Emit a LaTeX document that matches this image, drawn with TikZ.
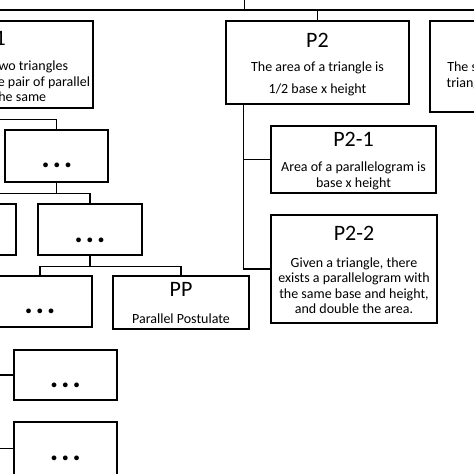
\documentclass[tikz,border=0pt]{standalone}
\usepackage{fontspec}
\setmainfont{Carlito}
\usetikzlibrary{positioning}
\tikzset{
  box/.style={draw, line width=1.3pt, inner sep=0pt},
  ttl/.style={font=\fontsize{22}{24}\selectfont, inner sep=0pt},
  txt/.style={font=\fontsize{14}{15.5}\selectfont, align=center, inner sep=0pt},
  dots/.style={font=\fontsize{32}{34}\selectfont\bfseries, inner sep=0pt},
}
\newcommand{\moredots}{.\kern2.7pt.\kern2.7pt.}

\begin{document}
\begin{tikzpicture}[x=1pt, y=-1pt, line width=1.3pt]
	\useasboundingbox (0,0) rectangle (474,474);
	% first row
	\node[box, minimum width=235pt, minimum height=40pt] (top) at (244.5,-20.3) {};
	\node[box, minimum width=197pt, minimum height=87pt] (P1) at (-5.5,64.5) {};
	\node[box, minimum width=183pt, minimum height=83pt] (P2) at (317.5,62.5) {};
	\node[box, minimum width=183pt, minimum height=91pt] (P3) at (521.5,66.5) {};
	\node[ttl] (P1t) at (-5.5,38.5) {P1};
	\node[txt] (P1b) at (-5.5,81.5) {The areas of two triangles\\between the same pair of parallel\\lines are the same};
	\node[ttl] (P2t) at (317.5,40) {P2};
	\node[txt] (P2b) at (317.5,79) {The area of a triangle is\\[6.5pt]1/2 base x height};
	\node[txt] (P3b) at (521.5,76) {The sum of the angles in a\\triangle is two right angles};
	% under P2
	\node[box, minimum width=165pt, minimum height=67pt] (P21) at (353.5,159.5) {};
	\node[box, minimum width=166pt, minimum height=108pt] (P22) at (354,269) {};
	\node[ttl] (P21t) at (353.5,139.5) {P2-1};
	\node[txt] (P21b) at (353.5,176) {Area of a parallelogram is\\base x height};
	\node[ttl] (P22t) at (354,233) {P2-2};
	\node[txt] (P22b) at (354,285.5) {Given a triangle, there\\exists a parallelogram with\\the same base and height,\\and double the area.};
	% under P1
	\node[box, minimum width=103pt, minimum height=52pt] (D1) at (56.5,156) {};
	\node[box, minimum width=104pt, minimum height=51pt] (D0) at (-36,229.5) {};
	\node[box, minimum width=104pt, minimum height=51pt] (D2) at (90,229.5) {};
	\node[box, minimum width=104pt, minimum height=51pt] (D3) at (40,301.5) {};
	\node[box, minimum width=136pt, minimum height=53pt] (PP) at (181,302.5) {};
	\node[box, minimum width=103pt, minimum height=50pt] (D4) at (65.5,375) {};
	\node[box, minimum width=103pt, minimum height=52.3pt] (D5) at (65.5,448.15) {};
	\node[dots] (D1t) at (57,165.5) {\moredots};
	\node[dots] (D2t) at (90,240.5) {\moredots};
	\node[dots] (D3t) at (40,311.5) {\moredots};
	\node[dots] (D4t) at (65.5,385.5) {\moredots};
	\node[dots] (D5t) at (65.5,458.5) {\moredots};
	\node[ttl] (PPt) at (181,289) {PP};
	\node[txt] (PPb) at (181,319) {Parallel Postulate};
	% connectors
	\coordinate (bus) at (0,10);
	\draw (top.south) -- (top.south |- bus);
	\draw (P1.north) -- (P1.north |- bus) -| (P3.north);
	\draw (P2.north) -- (P2.north |- bus);
	\coordinate (P2s) at ([xshift=18pt]P2.south west);
	\draw (P2s) |- (P21.west);
	\draw (P2s) |- (P22.west);
	\draw (P1.south) -- ++(0,11) -| (D1.north);
	\draw (D1.south) -- ++(0,11) -| (D0.north);
	\draw (D1.south) ++(0,11) -| (D2.north);
	\draw (D2.south) -- ++(0,11) -| (D3.north);
	\draw (D2.south) ++(0,11) -| (PP.north);
	\coordinate (Ds) at (-20,330);
	\draw (Ds) |- (D4.west);
	\draw (Ds) |- (D5.west);
\end{tikzpicture}
\end{document}
